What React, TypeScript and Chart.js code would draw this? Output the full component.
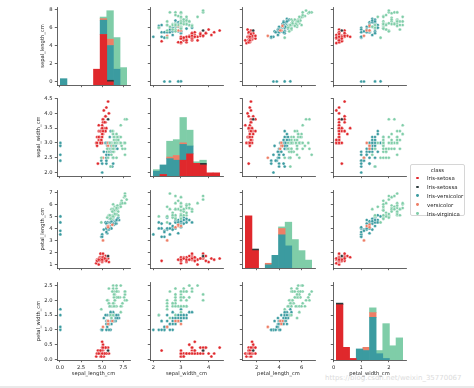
import React, { useEffect, useRef } from "react";
import { Chart, registerables } from "chart.js";
Chart.register(...registerables);

// ---------------- data ----------------
const classNames = ["Iris-setosa", "Iris-setossa", "Iris-versicolor", "versicolor", "Iris-virginica"];
const classColors = ["#e0282c", "#2b3a3b", "#3b9ba0", "#ee7e66", "#7fcda8"];
const varNames = ["sepal_length_cm", "sepal_width_cm", "petal_length_cm", "petal_width_cm"];

const setosaSepalLength = [5.1,4.9,4.7,4.6,5.0,5.4,4.6,5.0,4.4,4.9,5.4,4.8,4.8,4.3,5.8,5.7,5.4,5.1,5.1,5.4,5.1,4.6,5.1,4.8,5.0,5.0,5.2,5.2,4.7,4.8,5.4,5.2,5.5,4.9,5.0,5.5,4.9,4.4,5.1,5.0,4.5,4.4,5.0,5.1,4.8,5.1,4.6,5.3,5.0];
const setosaSepalWidth = [3.5,3.0,3.2,3.1,3.6,3.9,3.4,3.4,2.9,3.1,3.7,3.4,3.0,3.0,4.0,4.4,3.9,3.5,3.8,3.4,3.7,3.6,3.3,3.4,3.0,3.4,3.5,3.4,3.2,3.1,3.4,4.1,4.2,3.1,3.2,3.5,3.1,3.0,3.4,3.5,2.3,3.2,3.5,3.8,3.0,3.8,3.2,3.7,3.3];
const setosaPetalLength = [1.4,1.4,1.3,1.5,1.4,1.7,1.4,1.5,1.4,1.5,1.5,1.6,1.4,1.1,1.2,1.5,1.3,1.4,1.5,1.7,1.5,1.0,1.7,1.9,1.6,1.6,1.5,1.4,1.6,1.6,1.5,1.5,1.4,1.5,1.2,1.3,1.5,1.3,1.5,1.3,1.3,1.3,1.6,1.9,1.4,1.6,1.4,1.5,1.4];
const setosaPetalWidth = [0.2,0.2,0.2,0.2,0.2,0.4,0.3,null,null,null,null,null,0.1,0.1,0.2,0.4,0.4,0.3,0.3,0.2,0.4,0.2,0.5,0.2,0.2,0.4,0.2,0.2,0.2,0.2,0.4,0.1,0.2,0.1,0.2,0.2,0.1,0.2,0.2,0.3,0.3,0.2,0.6,0.4,0.3,0.2,0.2,0.2,0.2];

const setossaSepalLength = [5.7];
const setossaSepalWidth = [3.8];
const setossaPetalLength = [1.7];
const setossaPetalWidth = [0.3];

const versicolorSepalLength = [7.0,6.4,6.9,5.5,6.5,5.7,6.3,4.9,6.6,5.2,5.0,5.9,6.0,6.1,5.6,6.7,5.6,5.8,6.2,5.6,5.9,6.1,6.3,6.1,6.4,6.6,6.8,0.067,0.06,0.057,0.055,5.5,5.8,6.0,5.4,6.0,6.7,6.3,5.6,5.5,5.5,6.1,5.8,5.0,5.6];
const versicolorSepalWidth = [3.2,3.2,3.1,2.3,2.8,2.8,3.3,2.4,2.9,2.7,2.0,3.0,2.2,2.9,2.9,3.1,3.0,2.7,2.2,2.5,3.2,2.8,2.5,2.8,2.9,3.0,2.8,3.0,2.9,2.6,2.4,2.4,2.7,2.7,3.0,3.4,3.1,2.3,3.0,2.5,2.6,3.0,2.6,2.3,2.7];
const versicolorPetalLength = [4.7,4.5,4.9,4.0,4.6,4.5,4.7,3.3,4.6,3.9,3.5,4.2,4.0,4.7,3.6,4.4,4.5,4.1,4.5,3.9,4.8,4.0,4.9,4.7,4.3,4.4,4.8,5.0,4.5,3.5,3.8,3.7,3.9,5.1,4.5,4.5,4.7,4.4,4.1,4.0,4.4,4.6,4.0,3.3,4.2];
const versicolorPetalWidth = [1.4,1.5,1.5,1.3,1.5,1.3,1.6,1.0,1.3,1.4,1.0,1.5,1.0,1.4,1.3,1.4,1.5,1.0,1.5,1.1,1.8,1.3,1.5,1.2,1.3,1.4,1.4,1.7,1.5,1.0,1.1,1.0,1.2,1.6,1.5,1.6,1.5,1.3,1.3,1.3,1.2,1.4,1.2,1.0,1.3];

const versicolorTypoSepalLength = [5.7,5.7,6.2,5.1,5.7];
const versicolorTypoSepalWidth = [3.0,2.9,2.9,2.5,2.8];
const versicolorTypoPetalLength = [4.2,4.2,4.3,3.0,4.1];
const versicolorTypoPetalWidth = [1.2,1.3,1.3,1.1,1.3];

const virginicaSepalLength = [6.3,5.8,7.1,6.3,6.5,7.6,4.9,7.3,6.7,7.2,6.5,6.4,6.8,5.7,5.8,6.4,6.5,7.7,7.7,6.0,6.9,5.6,7.7,6.3,6.7,7.2,6.2,6.1,6.4,7.2,7.4,7.9,6.4,6.3,6.1,7.7,6.3,6.4,6.0,6.9,6.7,6.9,5.8,6.8,6.7,6.7,6.3,6.5,6.2,5.9];
const virginicaSepalWidth = [3.3,2.7,3.0,2.9,3.0,3.0,2.5,2.9,2.5,3.6,3.2,2.7,3.0,2.5,2.8,3.2,3.0,3.8,2.6,2.2,3.2,2.8,2.8,2.7,3.3,3.2,2.8,3.0,2.8,3.0,2.8,3.8,2.8,2.8,2.6,3.0,3.4,3.1,3.0,3.1,3.1,3.1,2.7,3.2,3.3,3.0,2.5,3.0,3.4,3.0];
const virginicaPetalLength = [6.0,5.1,5.9,5.6,5.8,6.6,4.5,6.3,5.8,6.1,5.1,5.3,5.5,5.0,5.1,5.3,5.5,6.7,6.9,5.0,5.7,4.9,6.7,4.9,5.7,6.0,4.8,4.9,5.6,5.8,6.1,6.4,5.6,5.1,5.6,6.1,5.6,5.5,4.8,5.4,5.6,5.1,5.1,5.9,5.7,5.2,5.0,5.2,5.4,5.1];
const virginicaPetalWidth = [2.5,1.9,2.1,1.8,2.2,2.1,1.7,1.8,1.8,2.5,2.0,1.9,2.1,2.0,2.4,2.3,1.8,2.2,2.3,1.5,2.3,2.0,2.0,1.8,2.1,1.8,1.8,1.8,2.1,1.6,1.9,2.0,2.2,1.5,1.4,2.3,2.4,1.8,1.8,2.1,2.4,2.3,1.9,2.3,2.5,2.3,1.9,2.0,2.3,1.8];

// tick values and labels per variable
const sepalLengthTicksY = [0, 2, 4, 6, 8];
const sepalLengthLabelsY = ["0", "2", "4", "6", "8"];
const sepalLengthTicksX = [0, 2.5, 5, 7.5];
const sepalLengthLabelsX = ["0.0", "2.5", "5.0", "7.5"];
const sepalWidthTicksY = [2.0, 2.5, 3.0, 3.5, 4.0, 4.5];
const sepalWidthLabelsY = ["2.0", "2.5", "3.0", "3.5", "4.0", "4.5"];
const sepalWidthTicksX = [2, 3, 4];
const sepalWidthLabelsX = ["2", "3", "4"];
const petalLengthTicksY = [1, 2, 3, 4, 5, 6, 7];
const petalLengthLabelsY = ["1", "2", "3", "4", "5", "6", "7"];
const petalLengthTicksX = [2, 4, 6];
const petalLengthLabelsX = ["2", "4", "6"];
const petalWidthTicksY = [0.0, 0.5, 1.0, 1.5, 2.0, 2.5];
const petalWidthLabelsY = ["0.0", "0.5", "1.0", "1.5", "2.0", "2.5"];
const petalWidthTicksX = [0, 1, 2];
const petalWidthLabelsX = ["0", "1", "2"];

// ---------------- derived tables ----------------
const CLASS_DATA: (number | null)[][][] = [
  [setosaSepalLength, setosaSepalWidth, setosaPetalLength, setosaPetalWidth],
  [setossaSepalLength, setossaSepalWidth, setossaPetalLength, setossaPetalWidth],
  [versicolorSepalLength, versicolorSepalWidth, versicolorPetalLength, versicolorPetalWidth],
  [versicolorTypoSepalLength, versicolorTypoSepalWidth, versicolorTypoPetalLength, versicolorTypoPetalWidth],
  [virginicaSepalLength, virginicaSepalWidth, virginicaPetalLength, virginicaPetalWidth],
];
const TICKS_Y = [sepalLengthTicksY, sepalWidthTicksY, petalLengthTicksY, petalWidthTicksY];
const LABELS_Y = [sepalLengthLabelsY, sepalWidthLabelsY, petalLengthLabelsY, petalWidthLabelsY];
const TICKS_X = [sepalLengthTicksX, sepalWidthTicksX, petalLengthTicksX, petalWidthTicksX];
const LABELS_X = [sepalLengthLabelsX, sepalWidthLabelsX, petalLengthLabelsX, petalWidthLabelsX];

const isNum = (x: any) => x !== null && x !== undefined;

function allValues(v: number): number[] {
  const out: number[] = [];
  CLASS_DATA.forEach((cls) => cls[v].forEach((x) => { if (isNum(x)) out.push(x as number); }));
  return out;
}
// complete rows only (rows with a missing value are dropped for the diagonal)
function completeValues(k: number, v: number): number[] {
  const cls = CLASS_DATA[k];
  const out: number[] = [];
  for (let i = 0; i < cls[v].length; i++) {
    if (cls.every((col) => isNum(col[i]))) out.push(cls[v][i] as number);
  }
  return out;
}
const LIMITS = [0, 1, 2, 3].map((v) => {
  const a = allValues(v);
  const lo = Math.min(...a), hi = Math.max(...a);
  const m = (hi - lo) * 0.05;
  return [lo - m, hi + m];
});
const NBINS = 10;
const HISTS = [0, 1, 2, 3].map((v) => {
  const perClass = CLASS_DATA.map((_, k) => completeValues(k, v));
  const a = perClass.flat();
  const lo = Math.min(...a), hi = Math.max(...a);
  const w = (hi - lo) / NBINS;
  const base = new Array(NBINS).fill(0);
  const stacks = perClass.map((vals) => {
    const counts = new Array(NBINS).fill(0);
    vals.forEach((x) => {
      let i = Math.floor((x - lo) / w + 1e-9);
      if (i >= NBINS) i = NBINS - 1;
      counts[i]++;
    });
    return counts.map((cnt, i) => {
      const b = base[i];
      base[i] += cnt;
      return { x: lo + (i + 0.5) * w, y: cnt > 0 ? [b, b + cnt] : null };
    });
  });
  return { stacks, maxTotal: Math.max(...base) };
});
// diagonal histograms share one count axis
const DIAG_MAX = Math.max(...HISTS.map((h) => h.maxTotal)) * 1.05;

function pairs(k: number, xv: number, yv: number) {
  const xs = CLASS_DATA[k][xv], ys = CLASS_DATA[k][yv];
  const pts: { x: number; y: number }[] = [];
  for (let i = 0; i < xs.length; i++) {
    const x = xs[i], y = ys[i];
    if (!isNum(x) || !isNum(y)) continue;
    pts.push({ x: x as number, y: y as number });
  }
  return pts;
}

// ---------------- layout ----------------
const COL_LEFT = [57, 150, 242, 333];
const COL_W = 73;
const ROW_TOP = [7, 98, 190, 282];
const ROW_H = 78;
const Y_TITLE_PL = [17, 21, 17, 21];
const X_TITLE_PB = 17;
const PT = 5, PR = 5, PSMALL = 4;
const FONT_FAMILY = "'DejaVu Sans', sans-serif";
const FONT = { family: FONT_FAMILY, size: 5.2 };
const TEXT_COLOR = "#262626";
const AXIS_COLOR = "#3c3c3c";

function makeAxis(v: number, dir: "x" | "y", show: boolean, fixed: number) {
  const vals = dir === "x" ? TICKS_X[v] : TICKS_Y[v];
  const labs = dir === "x" ? LABELS_X[v] : LABELS_Y[v];
  return {
    type: "linear",
    position: dir === "x" ? "bottom" : "left",
    min: LIMITS[v][0],
    max: LIMITS[v][1],
    offset: false,
    grid: { display: true, drawOnChartArea: false, drawTicks: true, tickLength: 2.2, color: AXIS_COLOR, lineWidth: 0.8, offset: false },
    border: { display: true, color: AXIS_COLOR, width: 0.8 },
    ticks: {
      display: show, autoSkip: false, maxRotation: 0, minRotation: 0, padding: 2.2,
      font: FONT, color: TEXT_COLOR,
      callback: (_val: any, i: number) => labs[i],
    },
    title: { display: show, text: varNames[v], font: FONT, color: TEXT_COLOR, padding: 0 },
    afterBuildTicks: (s: any) => { s.ticks = vals.map((value) => ({ value })); },
    afterFit: (s: any) => {
      if (dir === "x") s.height = fixed; else s.width = fixed;
      s.paddingLeft = 0; s.paddingRight = 0; s.paddingTop = 0; s.paddingBottom = 0;
    },
  };
}

function Panel({ r, c }: { r: number; c: number }) {
  const ref = useRef<HTMLCanvasElement>(null);
  const PL = c === 0 ? Y_TITLE_PL[r] : PSMALL;
  const PB = r === 3 ? X_TITLE_PB : PSMALL;
  const w = PL + COL_W + PR;
  const h = PT + ROW_H + PB;
  useEffect(() => {
    const isDiag = r === c;
    const scales: any = {
      x: makeAxis(c, "x", r === 3, PB),
      y: makeAxis(r, "y", c === 0, PL),
    };
    let datasets: any[];
    if (isDiag) {
      const hst = HISTS[c];
      scales.yh = { type: "linear", display: false, position: "right", min: 0, max: DIAG_MAX };
      datasets = classNames.map((name, k) => ({
        type: "bar", label: name, data: hst.stacks[k], backgroundColor: classColors[k],
        borderWidth: 0, grouped: false, barPercentage: 1, categoryPercentage: 1,
        xAxisID: "x", yAxisID: "yh",
      }));
    } else {
      datasets = classNames.map((name, k) => ({
        type: "scatter", label: name, data: pairs(k, c, r), backgroundColor: classColors[k],
        borderColor: "#ffffff", borderWidth: 0.4, pointRadius: 1.55, pointHoverRadius: 1.55,
        order: 10 - k, xAxisID: "x", yAxisID: "y",
      }));
    }
    const chart = new Chart(ref.current as HTMLCanvasElement, {
      type: isDiag ? "bar" : "scatter",
      data: { datasets },
      options: {
        responsive: false,
        animation: false,
        events: [],
        layout: { padding: { left: 0, top: PT, right: PR, bottom: 0 } },
        plugins: { legend: { display: false }, tooltip: { enabled: false } },
        scales,
      },
    } as any);
    return () => chart.destroy();
  }, []);
  return (
    <canvas
      ref={ref}
      width={w}
      height={h}
      style={{ position: "absolute", left: COL_LEFT[c] - PL, top: ROW_TOP[r] - PT, width: w, height: h }}
    />
  );
}

function Legend() {
  return (
    <div
      style={{
        position: "absolute", left: 410, top: 164, width: 55, height: 52, boxSizing: "border-box",
        border: "0.7px solid #d6d6d6", borderRadius: 2, background: "rgba(255,255,255,0.85)",
        fontFamily: FONT_FAMILY, fontSize: 5.4, color: TEXT_COLOR,
      }}
    >
      <div style={{ position: "absolute", left: 0, right: 0, top: 1.7, lineHeight: "6px", textAlign: "center", whiteSpace: "nowrap" }}>class</div>
      {classNames.map((n, k) => (
        <div key={n}>
          <div
            style={{
              position: "absolute", left: 5, top: 13 + k * 8.9 - 1.4, width: 2.8, height: 2.8,
              borderRadius: "50%", background: classColors[k],
            }}
          />
          <div style={{ position: "absolute", left: 16, top: 13 + k * 8.9 - 3, lineHeight: "6px", whiteSpace: "nowrap" }}>{n}</div>
        </div>
      ))}
    </div>
  );
}

export default function App() {
  const cells: JSX.Element[] = [];
  for (let r = 0; r < 4; r++) for (let c = 0; c < 4; c++) cells.push(<Panel key={`${r}-${c}`} r={r} c={c} />);
  return (
    <div style={{ position: "absolute", left: 0, top: 0, width: 474, height: 388, background: "#ffffff", overflow: "hidden" }}>
      <div
        style={{
          position: "absolute", left: 325, top: 374, fontFamily: FONT_FAMILY, fontSize: 7,
          color: "#dcdcdc", whiteSpace: "nowrap", lineHeight: "8px",
        }}
      >
        https://blog.csdn.net/weixin_35770067
      </div>
      {cells}
      <Legend />
      <div style={{ position: "absolute", left: 0, top: 386, width: 474, height: 2, background: "#e9e9e9" }} />
    </div>
  );
}
